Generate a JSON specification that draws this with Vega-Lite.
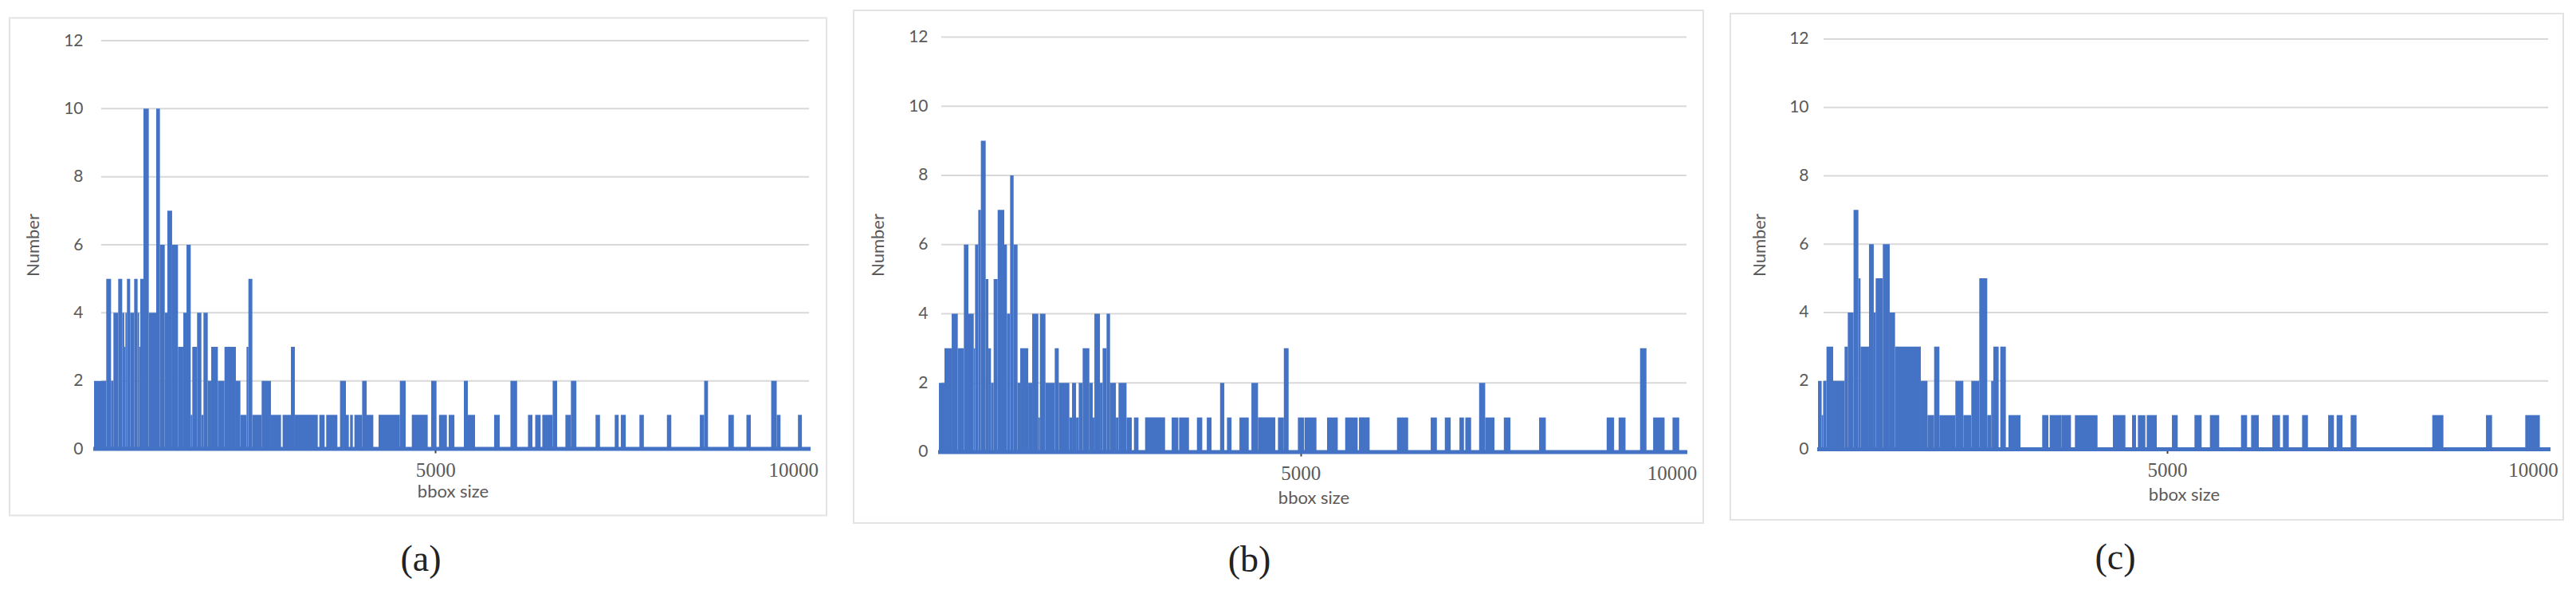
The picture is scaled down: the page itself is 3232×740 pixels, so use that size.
{
  "$schema": "https://vega.github.io/schema/vega-lite/v6.json",
  "background": "white",
  "padding": {"left": 11, "top": 12, "right": 0, "bottom": 0},
  "spacing": 34,
  "bounds": "flush",
  "center": true,
  "config": {
    "view": {"stroke": "#e3e3e3", "strokeWidth": 2},
    "axis": {"labelFont": "Lato", "titleFont": "Lato", "labelColor": "#5a5a5a", "titleColor": "#5a5a5a", "domain": false, "grid": false, "titleFontWeight": "normal"},
    "title": {"font": "Liberation Serif", "fontSize": 46, "fontWeight": "normal", "color": "#222222"}
  },
  "datasets": {
    "grid": [{"v": 2}, {"v": 4}, {"v": 6}, {"v": 8}, {"v": 10}, {"v": 12}],
    "a": [
      {"x0": 230, "x1": 401, "n": 2}, {"x0": 401, "x1": 468, "n": 5}, {"x0": 468, "x1": 501, "n": 2}, {"x0": 501, "x1": 568, "n": 4},
      {"x0": 568, "x1": 624, "n": 5}, {"x0": 624, "x1": 653, "n": 4}, {"x0": 653, "x1": 668, "n": 3}, {"x0": 668, "x1": 690, "n": 4},
      {"x0": 690, "x1": 735, "n": 5}, {"x0": 735, "x1": 791, "n": 4}, {"x0": 791, "x1": 839, "n": 5}, {"x0": 839, "x1": 861, "n": 4},
      {"x0": 861, "x1": 876, "n": 3}, {"x0": 876, "x1": 921, "n": 5}, {"x0": 921, "x1": 995, "n": 10}, {"x0": 995, "x1": 1099, "n": 4},
      {"x0": 1099, "x1": 1151, "n": 10}, {"x0": 1151, "x1": 1218, "n": 6}, {"x0": 1218, "x1": 1255, "n": 4}, {"x0": 1255, "x1": 1321, "n": 7},
      {"x0": 1321, "x1": 1403, "n": 6}, {"x0": 1403, "x1": 1477, "n": 3}, {"x0": 1477, "x1": 1522, "n": 4}, {"x0": 1522, "x1": 1581, "n": 6},
      {"x0": 1581, "x1": 1603, "n": 1}, {"x0": 1603, "x1": 1670, "n": 3}, {"x0": 1670, "x1": 1730, "n": 4}, {"x0": 1730, "x1": 1759, "n": 1},
      {"x0": 1759, "x1": 1819, "n": 4}, {"x0": 1819, "x1": 1867, "n": 2}, {"x0": 1867, "x1": 1960, "n": 3}, {"x0": 1960, "x1": 2053, "n": 2},
      {"x0": 2053, "x1": 2212, "n": 3}, {"x0": 2212, "x1": 2275, "n": 2}, {"x0": 2275, "x1": 2361, "n": 1}, {"x0": 2361, "x1": 2387, "n": 3},
      {"x0": 2387, "x1": 2442, "n": 5}, {"x0": 2442, "x1": 2572, "n": 1}, {"x0": 2572, "x1": 2702, "n": 2}, {"x0": 2702, "x1": 2843, "n": 1},
      {"x0": 2865, "x1": 2981, "n": 1}, {"x0": 2981, "x1": 3036, "n": 3}, {"x0": 3036, "x1": 3356, "n": 1}, {"x0": 3378, "x1": 3452, "n": 1},
      {"x0": 3474, "x1": 3630, "n": 1}, {"x0": 3667, "x1": 3749, "n": 2}, {"x0": 3749, "x1": 3790, "n": 1}, {"x0": 3808, "x1": 3846, "n": 1},
      {"x0": 3868, "x1": 3976, "n": 1}, {"x0": 3976, "x1": 4039, "n": 2}, {"x0": 4039, "x1": 4132, "n": 1}, {"x0": 4206, "x1": 4503, "n": 1},
      {"x0": 4503, "x1": 4584, "n": 2}, {"x0": 4670, "x1": 4892, "n": 1}, {"x0": 4941, "x1": 5015, "n": 2}, {"x0": 5050, "x1": 5160, "n": 1},
      {"x0": 5185, "x1": 5265, "n": 1}, {"x0": 5397, "x1": 5453, "n": 2}, {"x0": 5453, "x1": 5553, "n": 1}, {"x0": 5820, "x1": 5898, "n": 1},
      {"x0": 6048, "x1": 6141, "n": 2}, {"x0": 6293, "x1": 6355, "n": 1}, {"x0": 6394, "x1": 6470, "n": 1}, {"x0": 6493, "x1": 6638, "n": 1},
      {"x0": 6638, "x1": 6700, "n": 2}, {"x0": 6816, "x1": 6893, "n": 1}, {"x0": 6893, "x1": 6969, "n": 2}, {"x0": 7237, "x1": 7299, "n": 1},
      {"x0": 7505, "x1": 7560, "n": 1}, {"x0": 7590, "x1": 7659, "n": 1}, {"x0": 7850, "x1": 7912, "n": 1}, {"x0": 8234, "x1": 8295, "n": 1},
      {"x0": 8694, "x1": 8755, "n": 1}, {"x0": 8755, "x1": 8808, "n": 2}, {"x0": 9093, "x1": 9169, "n": 1}, {"x0": 9345, "x1": 9406, "n": 1},
      {"x0": 9691, "x1": 9768, "n": 2}, {"x0": 9768, "x1": 9821, "n": 1}, {"x0": 10065, "x1": 10120, "n": 1}
    ],
    "b": [
      {"x0": 130, "x1": 205, "n": 2}, {"x0": 205, "x1": 302, "n": 3}, {"x0": 302, "x1": 384, "n": 4}, {"x0": 384, "x1": 466, "n": 3},
      {"x0": 466, "x1": 527, "n": 6}, {"x0": 527, "x1": 599, "n": 4}, {"x0": 599, "x1": 617, "n": 3}, {"x0": 617, "x1": 660, "n": 6},
      {"x0": 660, "x1": 695, "n": 7}, {"x0": 695, "x1": 760, "n": 9}, {"x0": 760, "x1": 796, "n": 5}, {"x0": 796, "x1": 831, "n": 3},
      {"x0": 831, "x1": 867, "n": 2}, {"x0": 867, "x1": 921, "n": 5}, {"x0": 921, "x1": 1010, "n": 7}, {"x0": 1010, "x1": 1046, "n": 6},
      {"x0": 1046, "x1": 1089, "n": 4}, {"x0": 1089, "x1": 1136, "n": 8}, {"x0": 1136, "x1": 1189, "n": 6}, {"x0": 1189, "x1": 1225, "n": 2},
      {"x0": 1225, "x1": 1333, "n": 3}, {"x0": 1333, "x1": 1386, "n": 2}, {"x0": 1386, "x1": 1469, "n": 4}, {"x0": 1469, "x1": 1490, "n": 1},
      {"x0": 1490, "x1": 1565, "n": 4}, {"x0": 1565, "x1": 1690, "n": 2}, {"x0": 1690, "x1": 1744, "n": 3}, {"x0": 1744, "x1": 1887, "n": 2},
      {"x0": 1887, "x1": 1923, "n": 1}, {"x0": 1923, "x1": 1977, "n": 2}, {"x0": 1977, "x1": 2013, "n": 1}, {"x0": 2013, "x1": 2066, "n": 2},
      {"x0": 2066, "x1": 2156, "n": 3}, {"x0": 2156, "x1": 2202, "n": 2}, {"x0": 2202, "x1": 2224, "n": 1}, {"x0": 2224, "x1": 2299, "n": 4},
      {"x0": 2299, "x1": 2335, "n": 2}, {"x0": 2335, "x1": 2388, "n": 3}, {"x0": 2388, "x1": 2435, "n": 4}, {"x0": 2435, "x1": 2514, "n": 2},
      {"x0": 2514, "x1": 2549, "n": 1}, {"x0": 2549, "x1": 2657, "n": 2}, {"x0": 2657, "x1": 2728, "n": 1}, {"x0": 2757, "x1": 2818, "n": 1},
      {"x0": 2907, "x1": 3176, "n": 1}, {"x0": 3265, "x1": 3355, "n": 1}, {"x0": 3365, "x1": 3498, "n": 1}, {"x0": 3605, "x1": 3677, "n": 1},
      {"x0": 3738, "x1": 3802, "n": 1}, {"x0": 3917, "x1": 3974, "n": 2}, {"x0": 4010, "x1": 4071, "n": 1}, {"x0": 4178, "x1": 4303, "n": 1},
      {"x0": 4339, "x1": 4428, "n": 2}, {"x0": 4428, "x1": 4661, "n": 1}, {"x0": 4697, "x1": 4776, "n": 1}, {"x0": 4776, "x1": 4840, "n": 3},
      {"x0": 4965, "x1": 5047, "n": 1}, {"x0": 5054, "x1": 5215, "n": 1}, {"x0": 5358, "x1": 5502, "n": 1}, {"x0": 5602, "x1": 5770, "n": 1},
      {"x0": 5788, "x1": 5931, "n": 1}, {"x0": 6300, "x1": 6450, "n": 1}, {"x0": 6754, "x1": 6837, "n": 1}, {"x0": 6944, "x1": 7023, "n": 1},
      {"x0": 7141, "x1": 7202, "n": 1}, {"x0": 7220, "x1": 7298, "n": 1}, {"x0": 7406, "x1": 7488, "n": 2}, {"x0": 7488, "x1": 7613, "n": 1},
      {"x0": 7739, "x1": 7828, "n": 1}, {"x0": 8214, "x1": 8304, "n": 1}, {"x0": 9124, "x1": 9224, "n": 1}, {"x0": 9285, "x1": 9378, "n": 1},
      {"x0": 9574, "x1": 9660, "n": 3}, {"x0": 9750, "x1": 9904, "n": 1}, {"x0": 10011, "x1": 10101, "n": 1}
    ],
    "c": [
      {"x0": 230, "x1": 280, "n": 2}, {"x0": 280, "x1": 300, "n": 1}, {"x0": 300, "x1": 346, "n": 2}, {"x0": 346, "x1": 437, "n": 3},
      {"x0": 437, "x1": 593, "n": 2}, {"x0": 593, "x1": 637, "n": 3}, {"x0": 637, "x1": 716, "n": 4}, {"x0": 716, "x1": 782, "n": 7},
      {"x0": 782, "x1": 811, "n": 5}, {"x0": 811, "x1": 927, "n": 3}, {"x0": 927, "x1": 992, "n": 6}, {"x0": 992, "x1": 1018, "n": 4},
      {"x0": 1018, "x1": 1116, "n": 5}, {"x0": 1116, "x1": 1210, "n": 6}, {"x0": 1210, "x1": 1283, "n": 4}, {"x0": 1283, "x1": 1635, "n": 3},
      {"x0": 1635, "x1": 1726, "n": 2}, {"x0": 1726, "x1": 1817, "n": 1}, {"x0": 1817, "x1": 1889, "n": 3}, {"x0": 1889, "x1": 2107, "n": 1},
      {"x0": 2107, "x1": 2216, "n": 2}, {"x0": 2216, "x1": 2325, "n": 1}, {"x0": 2325, "x1": 2434, "n": 2}, {"x0": 2434, "x1": 2543, "n": 5},
      {"x0": 2543, "x1": 2597, "n": 1}, {"x0": 2597, "x1": 2626, "n": 2}, {"x0": 2626, "x1": 2699, "n": 3}, {"x0": 2721, "x1": 2797, "n": 3},
      {"x0": 2833, "x1": 2997, "n": 1}, {"x0": 3294, "x1": 3378, "n": 1}, {"x0": 3396, "x1": 3560, "n": 1}, {"x0": 3560, "x1": 3687, "n": 1},
      {"x0": 3741, "x1": 4050, "n": 1}, {"x0": 4260, "x1": 4431, "n": 1}, {"x0": 4522, "x1": 4576, "n": 1}, {"x0": 4602, "x1": 4704, "n": 1},
      {"x0": 4722, "x1": 4860, "n": 1}, {"x0": 5067, "x1": 5146, "n": 1}, {"x0": 5375, "x1": 5473, "n": 1}, {"x0": 5586, "x1": 5713, "n": 1},
      {"x0": 6011, "x1": 6094, "n": 1}, {"x0": 6149, "x1": 6254, "n": 1}, {"x0": 6439, "x1": 6544, "n": 1}, {"x0": 6584, "x1": 6664, "n": 1},
      {"x0": 6846, "x1": 6926, "n": 1}, {"x0": 7202, "x1": 7281, "n": 1}, {"x0": 7318, "x1": 7398, "n": 1}, {"x0": 7510, "x1": 7590, "n": 1},
      {"x0": 8625, "x1": 8777, "n": 1}, {"x0": 9359, "x1": 9442, "n": 1}, {"x0": 9896, "x1": 10095, "n": 1}
    ]
  },
  "hconcat": [
    {
      "width": 1025, "height": 624,
      "title": {"text": "(a)", "orient": "bottom", "frame": "group", "anchor": "middle", "baseline": "alphabetic", "offset": 69.5, "dx": 3.5},
      "resolve": {"axis": {"x": "independent", "y": "independent"}},
      "layer": [
        {
          "data": {"name": "grid"},
          "mark": {"type": "rule", "color": "#d9d9d9", "strokeWidth": 2},
          "encoding": {
            "y": {"field": "v", "type": "quantitative", "axis": null, "scale": {"domain": [-1.957, 12.668], "nice": false, "zero": false}},
            "x": {"datum": 330, "type": "quantitative", "axis": null, "scale": {"domain": [-950, 10464], "nice": false, "zero": false}},
            "x2": {"datum": 10220}
          }
        },
        {
          "data": {"name": "a"},
          "mark": {"type": "rect", "color": "#4472c4"},
          "encoding": {
            "x": {"field": "x0", "type": "quantitative", "scale": {"domain": [-950, 10464], "nice": false, "zero": false},
              "axis": {"values": [5000, 10000], "format": "d", "offset": -83.5, "ticks": true, "tickSize": 5, "tickWidth": 2,
                "tickColor": {"condition": {"test": "datum.value === 5000", "value": "#404040"}, "value": "transparent"},
                "labelFont": "Liberation Serif", "labelFontSize": 25, "labelPadding": 9, "labelFlush": false, "labelOverlap": false,
                "title": "bbox size", "titleFontSize": 22, "titleX": 556, "titleY": 53, "titleAlign": "center", "titleBaseline": "middle"}},
            "x2": {"field": "x1"},
            "y": {"field": "n", "type": "quantitative", "scale": {"domain": [-1.957, 12.668], "nice": false, "zero": false},
              "axis": {"values": [0, 2, 4, 6, 8, 10, 12], "offset": -106, "ticks": false, "labelPadding": 14, "labelFontSize": 21,
                "title": "Number", "titleFontSize": 22, "titleX": -77, "titleY": 284.5, "titleAngle": -90, "titleAlign": "center", "titleBaseline": "middle"}},
            "y2": {"datum": 0}
          }
        },
        {
          "data": {"values": [{}]},
          "mark": {"type": "rule", "color": "#4472c4", "strokeWidth": 5},
          "encoding": {
            "x": {"datum": 219, "type": "quantitative", "axis": null, "scale": {"domain": [-950, 10464], "nice": false, "zero": false}},
            "x2": {"datum": 10241},
            "y": {"datum": 0, "type": "quantitative", "axis": null, "scale": {"domain": [-1.957, 12.668], "nice": false, "zero": false}}
          }
        }
      ]
    },
    {
      "width": 1066, "height": 643,
      "title": {"text": "(b)", "orient": "bottom", "frame": "group", "anchor": "middle", "baseline": "alphabetic", "offset": 61, "dx": -36.5},
      "resolve": {"axis": {"x": "independent", "y": "independent"}},
      "layer": [
        {
          "data": {"name": "grid"},
          "mark": {"type": "rule", "color": "#d9d9d9", "strokeWidth": 2},
          "encoding": {
            "y": {"field": "v", "type": "quantitative", "axis": null, "scale": {"domain": [-2.052, 12.772], "nice": false, "zero": false}},
            "x": {"datum": 162, "type": "quantitative", "axis": null, "scale": {"domain": [-1019, 10425], "nice": false, "zero": false}},
            "x2": {"datum": 10200}
          }
        },
        {
          "data": {"name": "b"},
          "mark": {"type": "rect", "color": "#4472c4"},
          "encoding": {
            "x": {"field": "x0", "type": "quantitative", "scale": {"domain": [-1019, 10425], "nice": false, "zero": false},
              "axis": {"values": [5000, 10000], "format": "d", "offset": -89, "ticks": true, "tickSize": 5, "tickWidth": 2,
                "tickColor": {"condition": {"test": "datum.value === 5000", "value": "#404040"}, "value": "transparent"},
                "labelFont": "Liberation Serif", "labelFontSize": 25, "labelPadding": 9, "labelFlush": false, "labelOverlap": false,
                "title": "bbox size", "titleFontSize": 22, "titleX": 577, "titleY": 57, "titleAlign": "center", "titleBaseline": "middle"}},
            "x2": {"field": "x1"},
            "y": {"field": "n", "type": "quantitative", "scale": {"domain": [-2.052, 12.772], "nice": false, "zero": false},
              "axis": {"values": [0, 2, 4, 6, 8, 10, 12], "offset": -107, "ticks": false, "labelPadding": 14, "labelFontSize": 21,
                "title": "Number", "titleFontSize": 22, "titleX": -77, "titleY": 294, "titleAngle": -90, "titleAlign": "center", "titleBaseline": "middle"}},
            "y2": {"datum": 0}
          }
        },
        {
          "data": {"values": [{}]},
          "mark": {"type": "rule", "color": "#4472c4", "strokeWidth": 5},
          "encoding": {
            "x": {"datum": 119, "type": "quantitative", "axis": null, "scale": {"domain": [-1019, 10425], "nice": false, "zero": false}},
            "x2": {"datum": 10211},
            "y": {"datum": 0, "type": "quantitative", "axis": null, "scale": {"domain": [-2.052, 12.772], "nice": false, "zero": false}}
          }
        }
      ]
    },
    {
      "width": 1045, "height": 635,
      "title": {"text": "(c)", "orient": "bottom", "frame": "group", "anchor": "middle", "baseline": "alphabetic", "offset": 62, "dx": -39.5},
      "resolve": {"axis": {"x": "independent", "y": "independent"}},
      "layer": [
        {
          "data": {"name": "grid"},
          "mark": {"type": "rule", "color": "#d9d9d9", "strokeWidth": 2},
          "encoding": {
            "y": {"field": "v", "type": "quantitative", "axis": null, "scale": {"domain": [-2.064, 12.746], "nice": false, "zero": false}},
            "x": {"datum": 306, "type": "quantitative", "axis": null, "scale": {"domain": [-968, 10415], "nice": false, "zero": false}},
            "x2": {"datum": 10208}
          }
        },
        {
          "data": {"name": "c"},
          "mark": {"type": "rect", "color": "#4472c4"},
          "encoding": {
            "x": {"field": "x0", "type": "quantitative", "scale": {"domain": [-968, 10415], "nice": false, "zero": false},
              "axis": {"values": [5000, 10000], "format": "d", "offset": -88.5, "ticks": true, "tickSize": 5, "tickWidth": 2,
                "tickColor": {"condition": {"test": "datum.value === 5000", "value": "#404040"}, "value": "transparent"},
                "labelFont": "Liberation Serif", "labelFontSize": 25, "labelPadding": 9, "labelFlush": false, "labelOverlap": false,
                "title": "bbox size", "titleFontSize": 22, "titleX": 569, "titleY": 57, "titleAlign": "center", "titleBaseline": "middle"}},
            "x2": {"field": "x1"},
            "y": {"field": "n", "type": "quantitative", "scale": {"domain": [-2.064, 12.746], "nice": false, "zero": false},
              "axis": {"values": [0, 2, 4, 6, 8, 10, 12], "offset": -110, "ticks": false, "labelPadding": 12, "labelFontSize": 21,
                "title": "Number", "titleFontSize": 22, "titleX": -74, "titleY": 290, "titleAngle": -90, "titleAlign": "center", "titleBaseline": "middle"}},
            "y2": {"datum": 0}
          }
        },
        {
          "data": {"values": [{}]},
          "mark": {"type": "rule", "color": "#4472c4", "strokeWidth": 5},
          "encoding": {
            "x": {"datum": 219, "type": "quantitative", "axis": null, "scale": {"domain": [-968, 10415], "nice": false, "zero": false}},
            "x2": {"datum": 10241},
            "y": {"datum": 0, "type": "quantitative", "axis": null, "scale": {"domain": [-2.064, 12.746], "nice": false, "zero": false}}
          }
        }
      ]
    }
  ]
}
